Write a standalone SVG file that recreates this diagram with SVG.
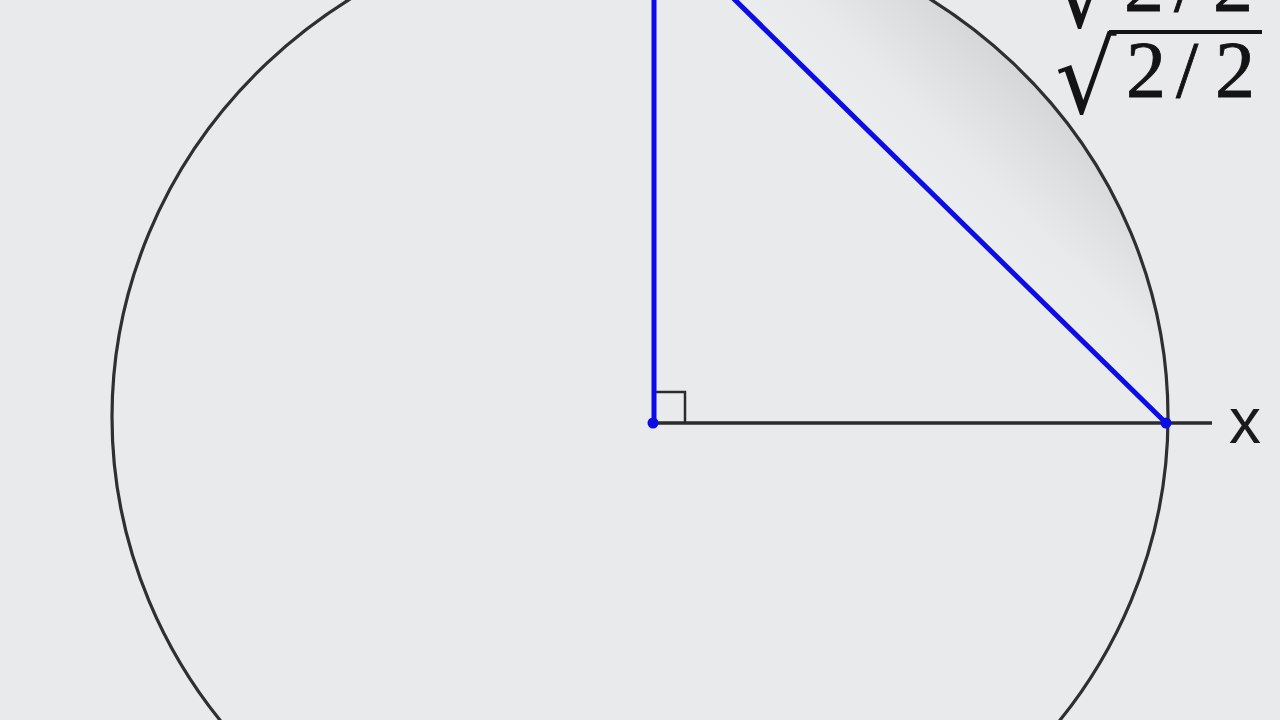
<svg xmlns="http://www.w3.org/2000/svg" width="1280" height="720" viewBox="0 0 1280 720">
  <style>
    .circle { fill: none; stroke: #2e2f30; stroke-width: 3.2; }
    .axis { stroke: #2a2b2c; stroke-width: 3.5; fill: none; }
    .blue { stroke: #0c0ce6; stroke-width: 5; fill: none; stroke-linecap: round; }
    .dot { fill: #0c0ce6; }
    .mark { stroke: #2a2b2c; stroke-width: 2.5; fill: none; }
    .lbl { font-family: "Liberation Serif", "Times New Roman", serif; font-size: 80px; fill: #141414; stroke: #141414; stroke-width: 0.8; }
    .rad { font-family: "DejaVu Sans", sans-serif; font-size: 92px; fill: #141414; }
    .bar { stroke: #141414; stroke-width: 4; }
    .axlbl { font-family: "Liberation Sans", Arial, sans-serif; font-size: 64px; fill: #1a1a1a; }
  </style>
  <defs>
    <clipPath id="segClip">
      <polygon points="735,0 1166,423 1280,423 1280,0"/>
    </clipPath>
    <linearGradient id="shade" gradientUnits="userSpaceOnUse" x1="950" y1="211" x2="1055" y2="104">
      <stop offset="0" stop-color="#ebeced"/>
      <stop offset="0.35" stop-color="#e8e9ea"/>
      <stop offset="1" stop-color="#d4d6d7"/>
    </linearGradient>
  </defs>
  <rect x="0" y="0" width="1280" height="720" fill="#e9eaeb"/>

  <g id="shading" clip-path="url(#segClip)">
    <ellipse cx="640" cy="417" rx="528" ry="500" fill="url(#shade)"/>
  </g>

  <g id="unit-circle">
    <ellipse class="circle" cx="640" cy="417" rx="528" ry="500"/>
  </g>

  <g id="connectors">
    <line id="x-axis" class="axis" x1="653" y1="423" x2="1212" y2="423"/>
    <polyline id="right-angle" class="mark" points="654,392 685,392 685,423"/>
    <line id="leg-vertical" class="blue" x1="654" y1="-5" x2="654" y2="423"/>
    <line id="hypotenuse" class="blue" x1="1166" y1="423" x2="730" y2="-5"/>
  </g>

  <g id="origin">
    <circle class="dot" cx="653" cy="423" r="5.5"/>
  </g>
  <g id="point-x">
    <circle class="dot" cx="1166" cy="423" r="5.5"/>
  </g>

  <g id="x-label">
    <text class="axlbl" x="1229" y="443">x</text>
  </g>

  <g id="label-upper" transform="translate(-2,-86)">
    <text class="rad" transform="translate(1055,113) scale(1.05,1.1)" x="0" y="0">√</text>
    <line class="bar" x1="1109" y1="32" x2="1262" y2="32"/>
    <text class="lbl" x="1126" y="97">2</text>
    <text class="lbl" x="1176" y="97">/</text>
    <text class="lbl" x="1215" y="97">2</text>
  </g>

  <g id="label-lower">
    <text class="rad" transform="translate(1055,113) scale(1.05,1.1)" x="0" y="0">√</text>
    <line class="bar" x1="1109" y1="32" x2="1262" y2="32"/>
    <text class="lbl" x="1126" y="97">2</text>
    <text class="lbl" x="1176" y="97">/</text>
    <text class="lbl" x="1215" y="97">2</text>
  </g>
</svg>
